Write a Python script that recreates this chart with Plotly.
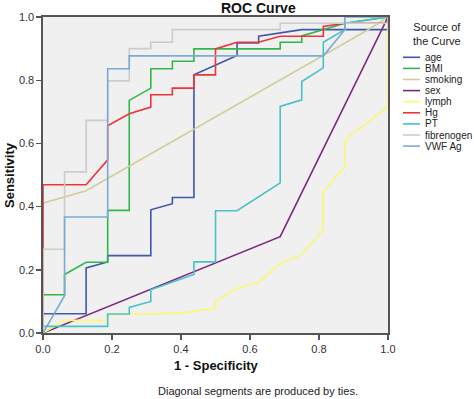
import plotly.graph_objects as go

# ---- data (1 - specificity, sensitivity) ----
series_names = ["age", "BMI", "smoking", "sex", "lymph", "Hg", "PT", "fibrenogen", "VWF Ag"]

age_x = [0, 0, 0.125, 0.125, 0.1875, 0.1875, 0.3125, 0.3125, 0.375, 0.375, 0.4375, 0.4375, 0.5625, 0.5625, 0.625, 0.625, 0.75, 1, 1]
age_y = [0, 0.061, 0.061, 0.206, 0.225, 0.245, 0.245, 0.39, 0.409, 0.429, 0.429, 0.817, 0.878, 0.918, 0.918, 0.939, 0.96, 0.96, 1]

bmi_x = [0, 0, 0.0625, 0.0625, 0.125, 0.1875, 0.1875, 0.25, 0.25, 0.3125, 0.3125, 0.375, 0.375, 0.4375, 0.4375, 0.6875, 0.6875, 0.75, 0.75, 0.875, 1]
bmi_y = [0, 0.121, 0.121, 0.185, 0.224, 0.224, 0.388, 0.388, 0.736, 0.775, 0.836, 0.836, 0.86, 0.86, 0.899, 0.899, 0.92, 0.92, 0.94, 0.98, 1]

smoking_x = [0, 0, 0.125, 0.94, 1]
smoking_y = [0, 0.411, 0.45, 0.958, 1]

sex_x = [0, 0.6875, 1]
sex_y = [0, 0.305, 1]

lymph_x = [0, 0.0625, 0.1875, 0.1875, 0.4, 0.5, 0.5, 0.5625, 0.625, 0.6875, 0.72, 0.75, 0.8125, 0.8125, 0.875, 0.875, 1, 1]
lymph_y = [0, 0.04, 0.04, 0.058, 0.063, 0.079, 0.1, 0.142, 0.16, 0.22, 0.234, 0.248, 0.327, 0.448, 0.527, 0.612, 0.716, 1]

hg_x = [0, 0, 0.125, 0.1875, 0.1875, 0.25, 0.3125, 0.3125, 0.375, 0.375, 0.4375, 0.4375, 0.5, 0.5, 0.5625, 0.625, 0.6875, 0.8125, 0.8125, 0.875, 1, 1]
hg_y = [0, 0.469, 0.469, 0.548, 0.656, 0.694, 0.715, 0.754, 0.754, 0.775, 0.775, 0.817, 0.817, 0.899, 0.92, 0.92, 0.939, 0.939, 0.97, 0.98, 0.98, 1]

pt_x = [0, 0, 0.1875, 0.1875, 0.25, 0.25, 0.3125, 0.3125, 0.4375, 0.4375, 0.5, 0.5, 0.5625, 0.6875, 0.6875, 0.75, 0.75, 0.8125, 0.8125, 0.875, 0.875, 1]
pt_y = [0, 0.021, 0.021, 0.06, 0.06, 0.081, 0.1, 0.137, 0.185, 0.225, 0.225, 0.387, 0.387, 0.475, 0.717, 0.738, 0.796, 0.839, 0.92, 0.96, 0.98, 1]

fib_x = [0, 0, 0.0625, 0.0625, 0.125, 0.125, 0.1875, 0.1875, 0.25, 0.25, 0.3125, 0.3125, 0.375, 0.375, 0.6875, 0.6875, 1, 1]
fib_y = [0, 0.265, 0.265, 0.51, 0.51, 0.673, 0.673, 0.798, 0.798, 0.90, 0.90, 0.92, 0.92, 0.96, 0.96, 0.98, 0.98, 1]

vwf_x = [0, 0.0625, 0.0625, 0.1875, 0.1875, 0.25, 0.25, 0.8125, 0.875, 0.875, 0.9375, 0.9375, 1]
vwf_y = [0, 0.118, 0.367, 0.367, 0.836, 0.836, 0.877, 0.877, 0.96, 1, 1, 1, 1]

series_x = [age_x, bmi_x, smoking_x, sex_x, lymph_x, hg_x, pt_x, fib_x, vwf_x]
series_y = [age_y, bmi_y, smoking_y, sex_y, lymph_y, hg_y, pt_y, fib_y, vwf_y]
colors = ["#3E58AC", "#2EB848", "#D3CE97", "#7C287D", "#FBF873", "#EF3338", "#48C2C5", "#CCCCCC", "#7AAAD5"]

tick_vals = [0, 0.2, 0.4, 0.6, 0.8, 1.0]
tick_text = ["0.0", "0.2", "0.4", "0.6", "0.8", "1.0"]

FONT = "Arial, Liberation Sans, sans-serif"
W, H = 474, 399
L, R, T, B = 43, 86, 17, 66
PW, PH = W - L - R, H - T - B

fig = go.Figure()
for name, xs, ys, c in zip(series_names, series_x, series_y, colors):
    fig.add_trace(go.Scatter(x=xs, y=ys, mode="lines", name=name,
                             line=dict(color=c, width=1.6), showlegend=False,
                             hoverinfo="skip"))

axis_common = dict(range=[0, 1], tickvals=tick_vals, ticktext=tick_text,
                   showgrid=False, zeroline=False, showline=True, mirror=True,
                   linecolor="#555555", linewidth=1.6, ticks="outside",
                   ticklen=5, tickwidth=1.4, tickcolor="#555555",
                   tickfont=dict(family=FONT, size=11, color="#333333"))

fig.update_layout(
    width=W, height=H,
    margin=dict(l=L, r=R, t=T, b=B, pad=0),
    paper_bgcolor="white", plot_bgcolor="#F0F0F0",
    xaxis=dict(**axis_common),
    yaxis=dict(**axis_common),
    showlegend=False,
)

anns = []
def px_x(p):
    return (p - L) / PW
def px_y(p):
    return 1 - (p - T) / PH

# Title
anns.append(dict(text="<b>ROC Curve</b>", x=px_x(258), y=px_y(8), xref="paper", yref="paper",
                 showarrow=False, font=dict(family=FONT, size=14, color="#111111"),
                 xanchor="center", yanchor="middle"))
# x-axis title
anns.append(dict(text="<b>1 - Specificity</b>", x=px_x(216), y=px_y(365), xref="paper", yref="paper",
                 showarrow=False, font=dict(family=FONT, size=13, color="#111111"),
                 xanchor="center", yanchor="middle"))
# y-axis title
anns.append(dict(text="<b>Sensitivity</b>", x=px_x(9), y=px_y(175), xref="paper", yref="paper",
                 showarrow=False, textangle=-90, font=dict(family=FONT, size=13, color="#111111"),
                 xanchor="center", yanchor="middle"))
# footnote
anns.append(dict(text="Diagonal segments are produced by ties.", x=px_x(258), y=px_y(391), xref="paper", yref="paper",
                 showarrow=False, font=dict(family=FONT, size=11, color="#222222"),
                 xanchor="center", yanchor="middle"))
# legend title
anns.append(dict(text="Source of<br>the Curve", x=px_x(437), y=px_y(34), xref="paper", yref="paper",
                 showarrow=False, font=dict(family=FONT, size=11, color="#222222"),
                 xanchor="center", yanchor="middle", align="center"))

shapes = []
leg_y0 = 57.3
leg_step = 11.1
for i, (name, c) in enumerate(zip(series_names, colors)):
    yy = leg_y0 + i * leg_step
    shapes.append(dict(type="line", xref="paper", yref="paper",
                       x0=px_x(403), x1=px_x(420), y0=px_y(yy), y1=px_y(yy),
                       line=dict(color=c, width=1.6)))
    anns.append(dict(text=name, x=px_x(422.5), y=px_y(yy), xref="paper", yref="paper",
                     showarrow=False, font=dict(family=FONT, size=10, color="#222222"),
                     xanchor="left", yanchor="middle"))

fig.update_layout(annotations=anns, shapes=shapes)
fig.write_html("out.html", config={"displayModeBar": False, "staticPlot": True},
               post_script="document.body.style.margin='0';document.body.style.overflow='hidden';")
